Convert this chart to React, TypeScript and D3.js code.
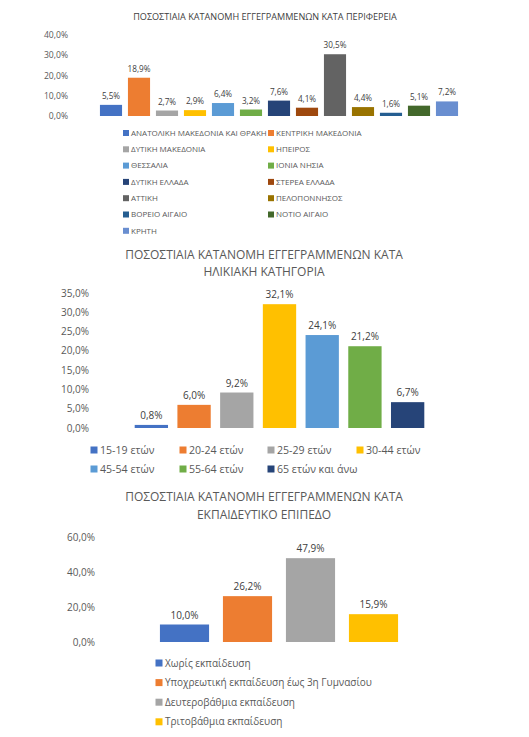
import React from "react";
import * as d3 from "d3";

const colors = ["#4472C4", "#ED7D31", "#A5A5A5", "#FFC000", "#5B9BD5", "#70AD47", "#264478", "#9E480E", "#636363", "#997300", "#255E91", "#43682B", "#698ED0"];

const regions = [
  "ΑΝΑΤΟΛΙΚΗ ΜΑΚΕΔΟΝΙΑ ΚΑΙ ΘΡΑΚΗ", "ΚΕΝΤΡΙΚΗ ΜΑΚΕΔΟΝΙΑ", "ΔΥΤΙΚΗ ΜΑΚΕΔΟΝΙΑ", "ΗΠΕΙΡΟΣ",
  "ΘΕΣΣΑΛΙΑ", "ΙΟΝΙΑ ΝΗΣΙΑ", "ΔΥΤΙΚΗ ΕΛΛΑΔΑ", "ΣΤΕΡΕΑ ΕΛΛΑΔΑ", "ΑΤΤΙΚΗ", "ΠΕΛΟΠΟΝΝΗΣΟΣ",
  "ΒΟΡΕΙΟ ΑΙΓΑΙΟ", "ΝΟΤΙΟ ΑΙΓΑΙΟ", "ΚΡΗΤΗ",
];
const regionValues = [5.5, 18.9, 2.7, 2.9, 6.4, 3.2, 7.6, 4.1, 30.5, 4.4, 1.6, 5.1, 7.2];
const regionTicks = [0, 10, 20, 30, 40];

const ages = ["15-19 ετών", "20-24 ετών", "25-29 ετών", "30-44 ετών", "45-54 ετών", "55-64 ετών", "65 ετών και άνω"];
const ageValues = [0.8, 6.0, 9.2, 32.1, 24.1, 21.2, 6.7];
const ageTicks = [0, 5, 10, 15, 20, 25, 30, 35];

const eduLevels = ["Χωρίς εκπαίδευση", "Υποχρεωτική εκπαίδευση έως 3η Γυμνασίου", "Δευτεροβάθμια εκπαίδευση", "Τριτοβάθμια εκπαίδευση"];
const eduValues = [10.0, 26.2, 47.9, 15.9];
const eduTicks = [0, 20, 40, 60];

const FONT = "'Open Sans', 'Noto Sans', sans-serif";
const TXT = "#595959";
const fmt = (v: number) => v.toFixed(1).replace(".", ",") + "%";

type BarProps = {
  cats: string[]; vals: number[]; ticks: number[];
  x0: number; x1: number; y0: number; y1: number; max: number;
  pad: number; tickX: number; tickSize: number; labelSize: number;
};

function Bars(p: BarProps) {
  const x = d3.scaleBand<string>().domain(p.cats).range([p.x0, p.x1]).paddingInner(p.pad).paddingOuter(p.pad / 2);
  const y = d3.scaleLinear().domain([0, p.max]).range([p.y0, p.y1]);
  return (
    <g>
      {p.ticks.map((t) => (
        <text key={t} x={p.tickX} y={y(t)} dy="0.35em" textAnchor="end" fontSize={p.tickSize} fill={TXT} fontFamily={FONT}>{fmt(t)}</text>
      ))}
      {p.cats.map((c, i) => (
        <g key={c}>
          <rect x={x(c)} y={y(p.vals[i])} width={x.bandwidth()} height={y(0) - y(p.vals[i])} fill={colors[i]} />
          <text x={(x(c) as number) + x.bandwidth() / 2} y={y(p.vals[i]) - 6} textAnchor="middle" fontSize={p.labelSize} fill="#404040" fontFamily={FONT}>{fmt(p.vals[i])}</text>
        </g>
      ))}
    </g>
  );
}

export default function App() {
  return (
    <svg width={529} height={737} style={{ position: "absolute", left: 0, top: 0, background: "#fff" }}>
      {/* Chart 1 */}
      <text x={265} y={20} textAnchor="middle" fontSize={9.1} fill="#404040" fontFamily={FONT}>ΠΟΣΟΣΤΙΑΙΑ ΚΑΤΑΝΟΜΗ ΕΓΓΕΓΡΑΜΜΕΝΩΝ ΚΑΤΑ ΠΕΡΙΦΕΡΕΙΑ</text>
      <Bars cats={regions} vals={regionValues} ticks={regionTicks} x0={97} x1={461} y0={116} y1={35} max={40} pad={0.21} tickX={68} tickSize={8.6} labelSize={8.2} />
      {regions.map((r, i) => {
        const col = i % 2, row = Math.floor(i / 2);
        const lx = col === 0 ? 126 : 271;
        const ly = 133 + row * 16.3;
        return (
          <g key={r}>
            <rect x={lx - 3} y={ly - 3} width={6} height={6} fill={colors[i]} />
            <text x={lx + 5} y={ly} dy="0.35em" fontSize={8} fill={TXT} fontFamily={FONT}>{r}</text>
          </g>
        );
      })}

      {/* Chart 2 */}
      <text x={264} y={259} textAnchor="middle" fontSize={12} fill={TXT} fontFamily={FONT}>ΠΟΣΟΣΤΙΑΙΑ ΚΑΤΑΝΟΜΗ ΕΓΓΕΓΡΑΜΜΕΝΩΝ  ΚΑΤΑ</text>
      <text x={264} y={276} textAnchor="middle" fontSize={12} fill={TXT} fontFamily={FONT}>ΗΛΙΚΙΑΚΗ ΚΑΤΗΓΟΡΙΑ</text>
      <Bars cats={ages} vals={ageValues} ticks={ageTicks} x0={130} x1={429} y0={428} y1={293} max={35} pad={0.22} tickX={89} tickSize={10} labelSize={10} />
      {ages.map((a, i) => {
        const col = i % 4, row = Math.floor(i / 4);
        const lx = [94, 183, 271, 360][col];
        const ly = 450 + row * 19;
        return (
          <g key={a}>
            <rect x={lx - 3.5} y={ly - 3.5} width={7} height={7} fill={colors[i]} />
            <text x={lx + 6} y={ly} dy="0.35em" fontSize={10.6} fill={TXT} fontFamily={FONT}>{a}</text>
          </g>
        );
      })}

      {/* Chart 3 */}
      <text x={264} y={501} textAnchor="middle" fontSize={12} fill={TXT} fontFamily={FONT}>ΠΟΣΟΣΤΙΑΙΑ ΚΑΤΑΝΟΜΗ ΕΓΓΕΓΡΑΜΜΕΝΩΝ ΚΑΤΑ</text>
      <text x={264} y={519} textAnchor="middle" fontSize={12} fill={TXT} fontFamily={FONT}>ΕΚΠΑΙΔΕΥΤΙΚΟ ΕΠΙΠΕΔΟ</text>
      <Bars cats={eduLevels} vals={eduValues} ticks={eduTicks} x0={153} x1={405} y0={642} y1={537} max={60} pad={0.22} tickX={95} tickSize={10} labelSize={10} />
      {eduLevels.map((e, i) => {
        const lx = 159, ly = 663 + i * 19.6;
        return (
          <g key={e}>
            <rect x={lx - 3.5} y={ly - 3.5} width={7} height={7} fill={colors[i]} />
            <text x={lx + 6} y={ly} dy="0.35em" fontSize={10} fill={TXT} fontFamily={FONT}>{e}</text>
          </g>
        );
      })}
    </svg>
  );
}
